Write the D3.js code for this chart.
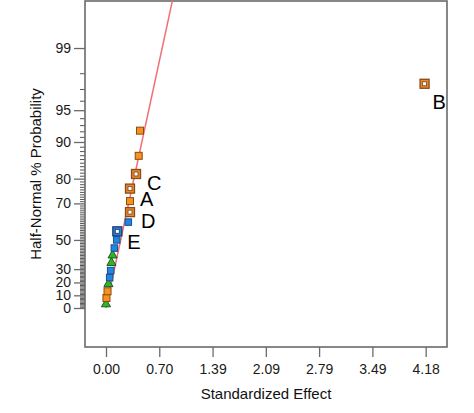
<!DOCTYPE html>
<html><head><meta charset="utf-8">
<script src="https://cdn.jsdelivr.net/npm/d3@7/dist/d3.min.js"></script>
<style>body{margin:0;background:#fff}svg{display:block;font-family:Arial,"Liberation Sans",sans-serif}</style>
</head><body><svg id="c" width="474" height="413"></svg>
<script>
// ---- data ----
const effects = [0.000,0.006,0.020,0.032,0.048,0.061,0.071,0.086,0.109,0.140,0.148,0.292,0.314,0.314,0.314,0.393,0.428,0.445,4.170];
const probabilities = [2.63,7.89,13.16,18.42,23.68,28.95,34.21,39.47,44.74,50.00,55.26,60.53,65.79,71.05,76.32,81.58,86.84,92.11,97.37];
const kinds = ["error","positive","positive","error","negative","negative","error","error","negative","negative","negative","negative","positive","positive","positive","positive","positive","positive","positive"];
const termLabels = ["","","","","","","","","","","E","","D","","A","C","","","B"];
const xTickValues = [0,0.6973,1.3947,2.092,2.7893,3.4867,4.184];
const xTickLabels = ["0.00","0.70","1.39","2.09","2.79","3.49","4.18"];
const yTickValues = [0,10,20,30,50,70,80,90,95,99];
const yTickLabels = ["0","10","20","30","50","70","80","90","95","99"];
const yMinorValues = [1,2,3,4,5,6,7,8,9,11,12,13,14,15,16,17,18,19,21,22,23,24,25,26,27,28,29,31,32,33,34,35,36,37,38,39,40,41,42,43,44,45,46,47,48,49,51,52,53,54,55,56,57,58,59,60,61,62,63,64,65,66,67,68,69,71,72,73,74,75,76,77,78,79,81,82,83,84,85,86,87,88,89,91,92,93,94,96,97,98];
const fitLineEffects = [0, 0.87];
const fitLineProbs = [0, 99.77];

// ---- helpers ----
function invNorm(p){
  const a=[-3.969683028665376e+01,2.209460984245205e+02,-2.759285104469687e+02,1.383577518672690e+02,-3.066479806614716e+01,2.506628277459239e+00];
  const b=[-5.447609879822406e+01,1.615858368580409e+02,-1.556989798598866e+02,6.680131188771972e+01,-1.328068155288572e+01];
  const c=[-7.784894002430293e-03,-3.223964580411365e-01,-2.400758277161838e+00,-2.549732539343734e+00,4.374664141464968e+00,2.938163982698783e+00];
  const d=[7.784695709041462e-03,3.224671290700398e-01,2.445134137142996e+00,3.754408661907416e+00];
  const pl=0.02425, ph=1-pl; let q,r;
  if(p<pl){q=Math.sqrt(-2*Math.log(p));return (((((c[0]*q+c[1])*q+c[2])*q+c[3])*q+c[4])*q+c[5])/((((d[0]*q+d[1])*q+d[2])*q+d[3])*q+1);}
  if(p<=ph){q=p-0.5;r=q*q;return (((((a[0]*r+a[1])*r+a[2])*r+a[3])*r+a[4])*r+a[5])*q/(((((b[0]*r+b[1])*r+b[2])*r+b[3])*r+b[4])*r+1);}
  q=Math.sqrt(-2*Math.log(1-p));return -(((((c[0]*q+c[1])*q+c[2])*q+c[3])*q+c[4])*q+c[5])/((((d[0]*q+d[1])*q+d[2])*q+d[3])*q+1);
}
const halfZ = p => invNorm((1 + p/100)/2);

// ---- layout ----
const L=85, R=447, T=1, B=347;
const svg = d3.select("#c");
const x = d3.scaleLinear().domain([-0.2749, 4.4634]).range([L, R]);
const yz = d3.scaleLinear().domain([-0.3864, 3.0418]).range([B, T]);
const y = p => yz(halfZ(p));
const axisCol = "#6a6a6a";
const FONT = "Arial, 'Liberation Sans', sans-serif";

svg.append("defs").append("clipPath").attr("id","clip")
  .append("rect").attr("x",L).attr("y",T).attr("width",R-L).attr("height",B-T);

// x axis
const gx = svg.append("g").attr("transform",`translate(0,${B})`)
  .call(d3.axisBottom(x).tickValues(xTickValues).tickSize(10).tickPadding(7).tickFormat((d,i)=>xTickLabels[i]));
gx.select(".domain").remove();
gx.selectAll(".tick line").attr("stroke",axisCol).attr("stroke-width",1.3);
gx.selectAll(".tick text").attr("font-size","14px").attr("fill","#1a1a1a").attr("font-family",FONT);

// y axis minor
const gym = svg.append("g").attr("transform",`translate(${L},0)`)
  .call(d3.axisLeft(yz).tickValues(yMinorValues.map(halfZ)).tickSize(5).tickFormat(""));
gym.select(".domain").remove();
gym.selectAll(".tick line").attr("stroke","#555").attr("stroke-width",1);

// y axis major
const gy = svg.append("g").attr("transform",`translate(${L},0)`)
  .call(d3.axisLeft(yz).tickValues(yTickValues.map(halfZ)).tickSize(11).tickPadding(3).tickFormat((d,i)=>yTickLabels[i]));
gy.select(".domain").remove();
gy.selectAll(".tick line").attr("stroke",axisCol).attr("stroke-width",1.3);
gy.selectAll(".tick text").attr("font-size","14px").attr("fill","#1a1a1a").attr("font-family",FONT);

// frame
svg.append("rect").attr("x",L).attr("y",T).attr("width",R-L).attr("height",B-T)
  .attr("fill","none").attr("stroke",axisCol).attr("stroke-width",1.6);

// axis titles
svg.append("text").attr("x",(L+R)/2).attr("y",399).attr("text-anchor","middle")
  .attr("font-size","15px").attr("fill","#111").text("Standardized Effect");
svg.append("text").attr("transform","translate(41,174) rotate(-90)").attr("text-anchor","middle")
  .attr("font-size","15px").attr("fill","#111").text("Half-Normal % Probability");

// fit line
svg.append("path").attr("clip-path","url(#clip)")
  .datum(fitLineEffects.map((e,i)=>[e, fitLineProbs[i]]))
  .attr("d", d3.line().x(d=>x(d[0])).y(d=>y(d[1])))
  .attr("fill","none").attr("stroke","#f07078").attr("stroke-width",1.5);

// points
const style = {
  positive:{fill:"#f7921e", stroke:"#8a4a14"},
  negative:{fill:"#1f86e6", stroke:"#1b4f86"},
  error:{fill:"#2db52d", stroke:"#1d5a1d"}
};
const pts = effects.map((e,i)=>({e, p:probabilities[i], k:kinds[i], lab:termLabels[i]}));
const gp = svg.append("g");
pts.forEach(d=>{
  const cx = x(d.e), cy = y(d.p), s = style[d.k];
  if(d.k==="error"){
    gp.append("path").attr("transform",`translate(${cx},${cy-0.5})`)
      .attr("d", d3.symbol(d3.symbolTriangle, 36)())
      .attr("fill",s.fill).attr("stroke",s.stroke).attr("stroke-width",1);
  } else if(d.lab){
    const sz=9;
    gp.append("rect").attr("x",cx-sz/2).attr("y",cy-sz/2).attr("width",sz).attr("height",sz)
      .attr("fill", d.k==="positive" ? "#e98a35" : "#2f7fd0")
      .attr("stroke", d.k==="positive" ? "#8a4a14" : "#1b3f78").attr("stroke-width",1.3);
    gp.append("rect").attr("x",cx-2).attr("y",cy-2).attr("width",4).attr("height",4)
      .attr("fill","#fff").attr("stroke", d.k==="positive" ? "#8a4a14" : "#1b3f78").attr("stroke-width",0.9);
  } else {
    const sz = d.k==="positive" ? 7 : 6.5;
    gp.append("rect").attr("x",cx-sz/2).attr("y",cy-sz/2).attr("width",sz).attr("height",sz)
      .attr("fill",s.fill).attr("stroke",s.stroke).attr("stroke-width",1);
  }
});

// term labels
const labelOffset = {B:[8,25], C:[11,16], A:[10,17], D:[11,16], E:[10,18]};
pts.filter(d=>d.lab).forEach(d=>{
  const o = labelOffset[d.lab];
  svg.append("text").attr("x",x(d.e)+o[0]).attr("y",y(d.p)+o[1])
    .attr("font-size","20px").attr("fill","#000").text(d.lab);
});
</script></body></html>
